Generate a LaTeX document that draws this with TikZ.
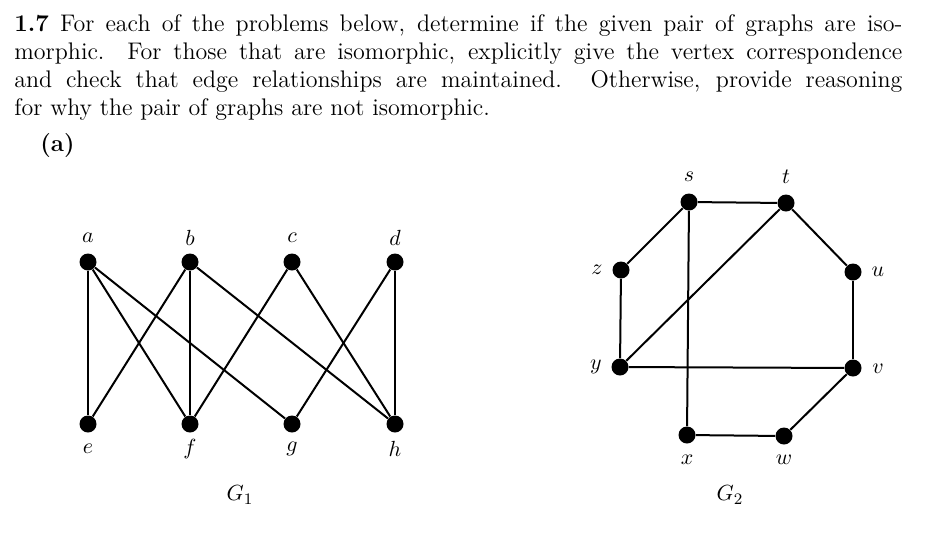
\documentclass[tikz,border=0pt]{standalone}
\begin{document}
\begin{tikzpicture}[x=0.5pt,y=-0.5pt,
  vtx/.style={circle,fill=black,inner sep=0pt,minimum size=8.5pt},
  lbl/.style={font=\fontsize{11}{13}\selectfont},
  edge/.style={line width=1pt}]
\useasboundingbox (0,0) rectangle (936,538);
\node[anchor=north west,inner sep=0pt,text width=444pt,align=justify,font=\fontsize{12}{14}\selectfont] (txt) at (14,14)
 {\textbf{1.7} For each of the problems below, determine if the given pair of graphs are iso-\linebreak morphic. For those that are isomorphic, explicitly give the vertex correspondence\linebreak and check that edge relationships are maintained. Otherwise, provide reasoning\linebreak for why the pair of graphs are not isomorphic.\hangindent=5.5pt\hangafter=1\relax};
\node[anchor=west,inner sep=0pt,font=\fontsize{12}{14}\selectfont\bfseries] (pa) at (40,145) {(a)};
% G1
\foreach \n/\x in {a/88,b/190,c/292,d/395} {\node[vtx] (\n) at (\x,262) {}; \node[lbl] (l\n) at (\x,238) {$\n$};}
\foreach \n/\x in {e/88,f/190,g/292,h/395} {\node[vtx] (\n) at (\x,424) {}; \node[lbl] (l\n) at (\x,449) {$\n$};}
\foreach \p/\q in {a/e,a/f,a/g,b/e,b/f,b/h,c/f,c/h,d/g,d/h} \draw[edge] (\p)--(\q);
\node[lbl] (G1) at (240,495) {$G_1$};
% G2
\node[vtx] (s) at (689,202) {}; \node[lbl] (ls) at (689,177) {$s$};
\node[vtx] (t) at (786,203) {}; \node[lbl] (lt) at (786,177) {$t$};
\node[vtx] (z) at (621,270) {}; \node[lbl] (lz) at (597,270) {$z$};
\node[vtx] (u) at (853,272) {}; \node[lbl] (lu) at (878,272) {$u$};
\node[vtx] (y) at (620,367) {}; \node[lbl] (ly) at (596,367) {$y$};
\node[vtx] (v) at (853,368) {}; \node[lbl] (lv) at (878,369) {$v$};
\node[vtx] (x) at (687,435) {}; \node[lbl] (lx) at (687,460) {$x$};
\node[vtx] (w) at (784,436) {}; \node[lbl] (lw) at (784,460) {$w$};
\foreach \p/\q in {s/t,s/z,s/x,t/y,t/u,z/y,y/v,u/v,v/w,x/w} \draw[edge] (\p)--(\q);
\node[lbl] (G2) at (730,495) {$G_2$};
\end{tikzpicture}
\end{document}
